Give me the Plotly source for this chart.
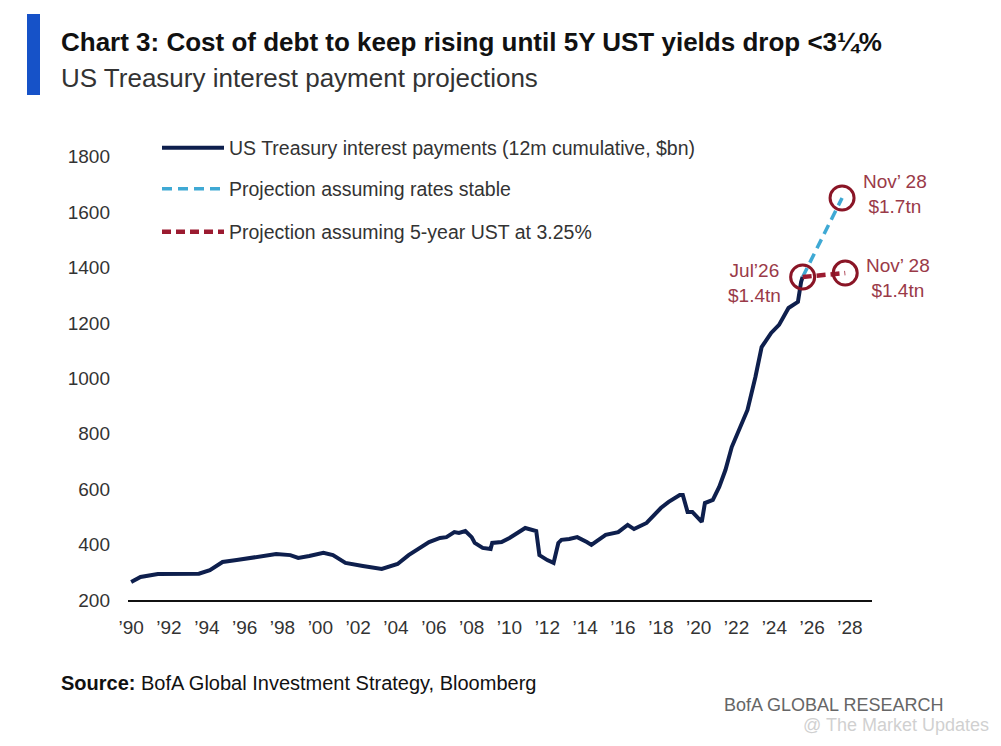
import plotly.graph_objects as go

# history (12m cumulative, $bn)
hist_dates = [
    "1990-01-01", "1990-07-01", "1991-06-01", "1992-06-01", "1993-08-01", "1994-03-01",
    "1994-11-01", "1995-08-01", "1996-10-01", "1997-09-01", "1998-06-01", "1998-11-01",
    "1999-06-01", "2000-03-01", "2000-09-01", "2001-05-01", "2002-04-01", "2003-04-01",
    "2004-02-01", "2004-09-01", "2005-10-01", "2006-05-01", "2006-09-01", "2007-02-01",
    "2007-05-01", "2007-09-01", "2008-01-01", "2008-03-01", "2008-08-01", "2009-01-01",
    "2009-02-01", "2009-08-01", "2010-01-01", "2010-07-01", "2010-11-01", "2011-06-01",
    "2011-08-01", "2012-01-01", "2012-05-01", "2012-08-01", "2012-10-01", "2013-03-01",
    "2013-08-01", "2014-02-01", "2014-05-01", "2015-02-01", "2015-10-01", "2016-04-01",
    "2016-08-01", "2017-04-01", "2018-01-01", "2018-06-01", "2019-01-01", "2019-03-01",
    "2019-06-01", "2019-09-01", "2020-03-01", "2020-05-01", "2020-10-01", "2021-02-01",
    "2021-06-01", "2021-10-01", "2022-05-01", "2022-08-01", "2023-01-01", "2023-05-01",
    "2023-11-01", "2024-04-01", "2024-10-01", "2025-04-01", "2025-06-01", "2025-07-01",
]
hist_values = [
    265, 283, 294, 295, 295, 308,
    337, 344, 355, 366, 362, 352,
    359, 370, 362, 334, 323, 312,
    330, 362, 409, 424, 427, 445,
    442, 449, 427, 406, 388, 384,
    406, 409, 424, 445, 460, 449,
    362, 344, 334, 406, 417, 420,
    427, 409, 399, 435, 445, 471,
    456, 478, 532, 554, 579, 579,
    518, 518, 482, 550, 561, 608,
    669, 752, 850, 886, 1005, 1113,
    1164, 1193, 1254, 1276, 1348, 1366,
]

stable_dates = ["2025-07-01", "2027-08-01"]
stable_values = [1366, 1651]

ust325_dates = ["2025-07-01", "2027-10-01"]
ust325_values = [1366, 1380]

circle_dates = ["2025-07-01", "2027-08-01", "2027-10-01"]
circle_values = [1366, 1651, 1380]

tick_years = list(range(1990, 2029, 2))
tick_vals = [f"{y}-01-01" for y in tick_years]
tick_text = [f"’{str(y)[2:]}" for y in tick_years]

NAVY = "#0e1f4d"
LIGHT_BLUE = "#3fa9d4"
MAROON = "#9b1b30"
RING = "#8a1526"
NOTE = "#9a3a48"
FONT = "Liberation Sans, Arial, sans-serif"

# page has an 8px body margin; positions below are in screenshot pixels
OFF = 8
W, H = 1001 - 2 * OFF, 746 - 2 * OFF
L, R, T, B = 128, 872, 129, 600


def px(x):
    return (x - L) / (R - L)


def py(y):
    return (B - y) / (B - T)


fig = go.Figure()
fig.add_trace(go.Scatter(
    x=hist_dates, y=hist_values, mode="lines",
    name="US Treasury interest payments (12m cumulative, $bn)",
    line=dict(color=NAVY, width=4), legend="legend",
))
fig.add_trace(go.Scatter(
    x=stable_dates, y=stable_values, mode="lines",
    name="Projection assuming rates stable",
    line=dict(color=LIGHT_BLUE, width=3.5, dash="10px,6px"), legend="legend2",
))
fig.add_trace(go.Scatter(
    x=ust325_dates, y=ust325_values, mode="lines",
    name="Projection assuming 5-year UST at 3.25%",
    line=dict(color=MAROON, width=4.5, dash="9px,5px"), legend="legend3",
))
fig.add_trace(go.Scatter(
    x=circle_dates, y=circle_values, mode="markers", showlegend=False,
    marker=dict(symbol="circle-open", size=24, color=RING, line=dict(width=3, color=RING)),
))

notes = [
    (circle_dates[0], circle_values[0], "Jul’26<br>$1.4tn", "right", -20, -6),
    (circle_dates[1], circle_values[1], "Nov’ 28<br>$1.7tn", "left", 19, 4),
    (circle_dates[2], circle_values[2], "Nov’ 28<br>$1.4tn", "left", 19, -5),
]
for x, y, txt, anchor, dx, dy in notes:
    fig.add_annotation(x=x, y=y, text=txt, showarrow=False, xanchor=anchor, yanchor="middle",
                       xshift=dx, yshift=dy, align="center",
                       font=dict(family=FONT, size=19, color=NOTE))

fig.add_shape(type="rect", xref="paper", yref="paper",
              x0=px(27), x1=px(40), y0=py(95), y1=py(14),
              fillcolor="#1652c8", line=dict(width=0))

texts = [
    ("<b>Chart 3: Cost of debt to keep rising until 5Y UST yields drop <3¼%</b>",
     59, 42, "left", 26, "#111"),
    ("US Treasury interest payment projections", 59, 78, "left", 26, "#333"),
    ("<b>Source:</b> BofA Global Investment Strategy, Bloomberg", 59, 683, "left", 20, "#111"),
    ("BofA GLOBAL RESEARCH", 945, 705, "right", 18, "#666"),
]
for txt, x, y, anchor, size, color in texts:
    fig.add_annotation(xref="paper", yref="paper", x=px(x), y=py(y), text=txt,
                       showarrow=False, xanchor=anchor, yanchor="middle",
                       font=dict(family=FONT, size=size, color=color))
fig.add_annotation(xref="paper", yref="paper", x=px(991), y=py(725), text="@ The Market Updates",
                   showarrow=False, xanchor="right", yanchor="middle", opacity=0.45,
                   font=dict(family=FONT, size=18, color="#999"))

legend_style = dict(font=dict(family=FONT, size=19.5, color="#333"), bgcolor="rgba(0,0,0,0)",
                    xanchor="left", yanchor="middle", itemwidth=62)

fig.update_layout(
    width=W, height=H,
    margin=dict(l=L - OFF, r=W - (R - OFF), t=T - OFF, b=H - (B - OFF)),
    paper_bgcolor="white", plot_bgcolor="white",
    font=dict(family=FONT, size=19, color="#333"),
    showlegend=True,
    legend=dict(x=px(157), y=py(148), **legend_style),
    legend2=dict(x=px(157), y=py(189), **legend_style),
    legend3=dict(x=px(157), y=py(232), **legend_style),
    xaxis=dict(type="date", range=["1989-11-01", "2029-03-01"],
               tickvals=tick_vals, ticktext=tick_text, ticks="",
               showgrid=False, zeroline=False, showline=True, linecolor="#111", linewidth=2,
               ticklabelstandoff=9, tickfont=dict(family=FONT, size=19, color="#333")),
    yaxis=dict(range=[200, 1900], tickvals=list(range(200, 1801, 200)), ticks="",
               showgrid=False, zeroline=False, showline=False,
               ticklabelstandoff=17, tickfont=dict(family=FONT, size=19, color="#333")),
)

fig.write_html("out.html")
